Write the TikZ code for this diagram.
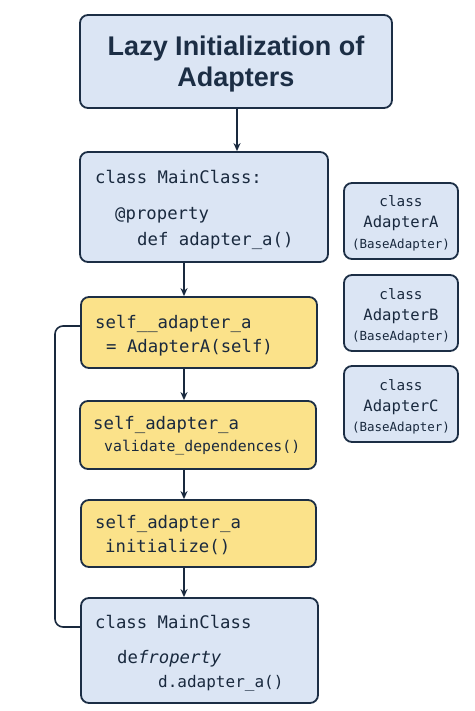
\documentclass[tikz,border=0pt]{standalone}
\usepackage{fontspec}
\setmainfont{Liberation Sans}
\setmonofont{DejaVu Sans Mono}
\usetikzlibrary{arrows.meta,calc}
\definecolor{edge}{HTML}{1C2E45}
\definecolor{bluefill}{HTML}{DBE5F4}
\definecolor{yellowfill}{HTML}{FBE28A}
\begin{document}
\begin{tikzpicture}[x=1pt,y=-1pt,
  box/.style={draw=edge,line width=1.8pt,rounded corners=8pt,inner sep=0pt},
  bluebox/.style={box,fill=bluefill},
  yellowbox/.style={box,fill=yellowfill},
  code/.style={anchor=base west,inner sep=0pt,font=\fontsize{17.3}{19}\selectfont\ttfamily,text=edge!90!black},
  narrowcode/.style={code,font=\fontsize{14.8}{17}\selectfont\ttfamily},
  midcode/.style={code,font=\fontsize{16}{18}\selectfont\ttfamily},
  small/.style={anchor=base,inner sep=0pt,font=\fontsize{14.3}{16}\selectfont\ttfamily,text=edge!90!black},
  smallname/.style={small,font=\fontsize{15.6}{17}\selectfont\ttfamily},
  smaller/.style={anchor=base,inner sep=0pt,font=\fontsize{12.5}{15}\selectfont\ttfamily,text=edge!90!black},
  arrow/.style={draw=edge!90!black,line width=1.6pt,-{Stealth[length=8pt,width=7pt]}},
  link/.style={draw=edge!90!black,line width=1.6pt,rounded corners=8pt}]
\path[use as bounding box] (0,0) rectangle (474,711);
% title
\node[bluebox,minimum width=312pt,minimum height=93pt] (title) at (236,61.5) {};
\node[inner sep=0pt,align=center,font=\fontsize{27}{31}\selectfont\bfseries,text=edge] (titletext) at (236,64) {Lazy Initialization of\\Adapters};
% main column
\node[bluebox,minimum width=248pt,minimum height=110pt] (b1) at (204,207) {};
\node[yellowbox,minimum width=236pt,minimum height=71pt] (b2) at (199,332.5) {};
\node[yellowbox,minimum width=236pt,minimum height=68pt] (b3) at (198,435) {};
\node[yellowbox,minimum width=235pt,minimum height=67pt] (b4) at (198.5,533.5) {};
\node[bluebox,minimum width=237pt,minimum height=105pt] (b5) at (199.5,650.5) {};
% right column
\node[bluebox,minimum width=114pt,minimum height=76pt] (ra) at (401,221) {};
\node[bluebox,minimum width=114pt,minimum height=76pt] (rb) at (401,313) {};
\node[bluebox,minimum width=114pt,minimum height=76pt] (rc) at (401,404) {};
% texts
\node[code] (t1a) at (95,184) {class MainClass:};
\node[code] (t1b) at (115,219) {@property};
\node[code] (t1c) at (137,245) {def adapter\_a()};
\node[code] (t2a) at (95,328) {self\_\_adapter\_a};
\node[code] (t2b) at (106,352) {= AdapterA(self)};
\node[code] (t3a) at (93,429) {self\_adapter\_a};
\node[narrowcode] (t3b) at (104,451) {validate\_dependences()};
\node[code] (t4a) at (95,528) {self\_adapter\_a};
\node[code] (t4b) at (105,552) {initialize()};
\node[code] (t5a) at (95,628) {class MainClass};
\node[code] (t5b) at (117,663) {de\textit{froperty}};
\node[midcode] (t5c) at (158,687) {d.adapter\_a()};
\foreach \n/\l/\y in {ra/A/207,rb/B/299,rc/C/390}{
  \node[small] (\n c) at (401,\y) {class};
  \node[smallname] (\n n) at (401,\y+21) {Adapter\l};
  \node[smaller] (\n b) at (401,\y+41) {(BaseAdapter)};
}
% connectors
\coordinate (colA) at (237,0);
\coordinate (colB) at (184,0);
\draw[arrow] (title.south -| colA) -- (b1.north -| colA);
\draw[arrow] (b1.south -| colB) -- (b2.north -| colB);
\draw[arrow] (b2.south -| colB) -- (b3.north -| colB);
\draw[arrow] (b3.south -| colB) -- (b4.north -| colB);
\draw[arrow] (b4.south -| colB) -- (b5.north -| colB);
\coordinate (loopx) at (55,0);
\coordinate (loopy1) at (0,627);
\coordinate (loopy2) at (0,326);
\draw[link] (b5.west |- loopy1) -- (loopx |- loopy1) -- (loopx |- loopy2) -- (b2.west |- loopy2);
\end{tikzpicture}
\end{document}
